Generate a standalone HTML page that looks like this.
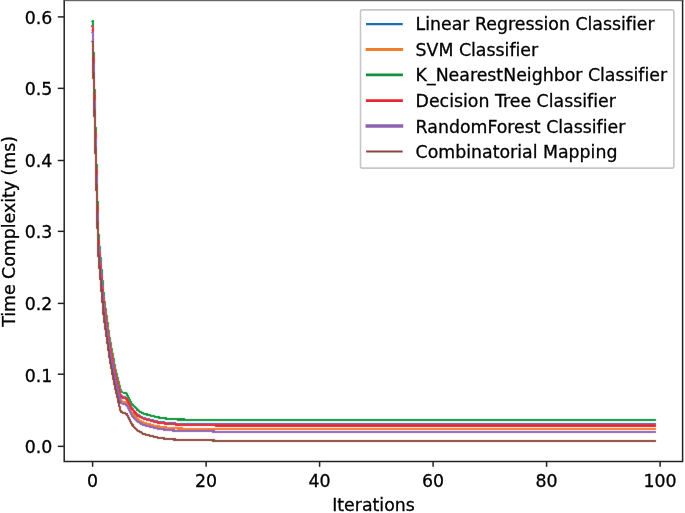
<!DOCTYPE html><html><head><meta charset="utf-8"><style>html,body{margin:0;padding:0;background:#fff;}svg{display:block;}text{font-family:"DejaVu Sans","Liberation Sans",sans-serif;font-variant-ligatures:none;font-feature-settings:"liga" 0,"kern" 1;font-size:17.35px;fill:#000;stroke:#000;stroke-width:0.3px;}</style></head><body>
<svg width="685" height="513" viewBox="0 0 685 513">
<rect width="685" height="513" fill="#fff"/>
<defs><clipPath id="ax"><rect x="64.5" y="0.5" width="618" height="460.8"/></clipPath><filter id="bl" filterUnits="userSpaceOnUse" x="0" y="0" width="685" height="513"><feConvolveMatrix order="3" kernelMatrix="0.01134 0.08382 0.01134 0.08382 0.61935 0.08382 0.01134 0.08382 0.01134" edgeMode="none" preserveAlpha="false"/></filter></defs>
<g clip-path="url(#ax)"><g filter="url(#bl)" shape-rendering="crispEdges" fill="none" stroke-width="2.20" stroke-linejoin="round" stroke-linecap="square">
<polyline stroke="#1c6fb2" points="92.60,25.89 98.27,237.17 103.95,302.34 109.62,342.45 115.30,372.89 120.97,396.17 126.65,397.96 132.32,408.84 138.00,414.79 143.67,418.01 149.35,419.37 155.02,421.09 160.70,422.09 166.38,422.81 172.05,423.38 177.72,423.74 183.40,423.88 189.07,423.95 194.75,423.95 200.43,424.03 206.10,424.03 211.77,423.99 217.45,423.92 223.12,423.92 228.80,423.92 234.47,423.92 240.15,423.92 245.82,423.92 251.50,423.92 257.17,423.92 262.85,423.92 268.52,423.92 274.20,423.92 279.88,423.92 285.55,423.92 291.23,423.92 296.90,423.92 302.57,423.92 308.25,423.92 313.92,423.92 319.60,423.92 325.27,423.92 330.95,423.92 336.62,423.92 342.30,423.92 347.98,423.92 353.65,423.92 359.32,423.92 365.00,423.92 370.67,423.92 376.35,423.92 382.02,423.92 387.70,423.92 393.38,423.92 399.05,423.92 404.73,423.92 410.40,423.92 416.07,423.92 421.75,423.92 427.42,423.92 433.10,423.92 438.77,423.92 444.45,423.92 450.12,423.92 455.80,423.92 461.48,423.92 467.15,423.92 472.82,423.92 478.50,423.92 484.17,423.92 489.85,423.92 495.52,423.92 501.20,423.92 506.88,423.92 512.55,423.92 518.23,423.92 523.90,423.92 529.57,423.92 535.25,423.92 540.92,423.92 546.60,423.92 552.27,423.92 557.95,423.92 563.62,423.92 569.30,423.92 574.98,423.92 580.65,423.92 586.32,423.92 592.00,423.92 597.67,423.92 603.35,423.92 609.02,423.92 614.70,423.92 620.38,423.92 626.05,423.92 631.73,423.92 637.40,423.92 643.08,423.92 648.75,423.92 654.42,423.92"/>
<polyline stroke="#f27d2c" points="92.60,30.62 98.27,241.90 103.95,307.07 109.62,347.18 115.30,377.62 120.97,400.89 126.65,402.68 132.32,413.57 138.00,419.51 143.67,422.74 149.35,424.10 155.02,425.82 160.70,426.82 166.38,427.54 172.05,428.11 177.72,428.47 183.40,428.61 189.07,428.68 194.75,428.68 200.43,428.75 206.10,428.75 211.77,428.93 217.45,429.08 223.12,429.08 228.80,429.08 234.47,429.08 240.15,429.08 245.82,429.08 251.50,429.08 257.17,429.08 262.85,429.08 268.52,429.08 274.20,429.08 279.88,429.08 285.55,429.08 291.23,429.08 296.90,429.08 302.57,429.08 308.25,429.08 313.92,429.08 319.60,429.08 325.27,429.08 330.95,429.08 336.62,429.08 342.30,429.08 347.98,429.08 353.65,429.08 359.32,429.08 365.00,429.08 370.67,429.08 376.35,429.08 382.02,429.08 387.70,429.08 393.38,429.08 399.05,429.08 404.73,429.08 410.40,429.08 416.07,429.08 421.75,429.08 427.42,429.08 433.10,429.08 438.77,429.08 444.45,429.08 450.12,429.08 455.80,429.08 461.48,429.08 467.15,429.08 472.82,429.08 478.50,429.08 484.17,429.08 489.85,429.08 495.52,429.08 501.20,429.08 506.88,429.08 512.55,429.08 518.23,429.08 523.90,429.08 529.57,429.08 535.25,429.08 540.92,429.08 546.60,429.08 552.27,429.08 557.95,429.08 563.62,429.08 569.30,429.08 574.98,429.08 580.65,429.08 586.32,429.08 592.00,429.08 597.67,429.08 603.35,429.08 609.02,429.08 614.70,429.08 620.38,429.08 626.05,429.08 631.73,429.08 637.40,429.08 643.08,429.08 648.75,429.08 654.42,429.08"/>
<polyline stroke="#0f9238" points="92.60,21.59 98.27,232.87 103.95,298.05 109.62,338.15 115.30,368.59 120.97,391.87 126.65,393.66 132.32,404.55 138.00,410.49 143.67,413.71 149.35,415.07 155.02,416.79 160.70,417.80 166.38,418.51 172.05,419.08 177.72,419.44 183.40,419.59 189.07,419.66 194.75,419.66 200.43,419.73 206.10,419.73 211.77,419.76 217.45,419.76 223.12,419.76 228.80,419.76 234.47,419.76 240.15,419.76 245.82,419.76 251.50,419.76 257.17,419.76 262.85,419.76 268.52,419.76 274.20,419.76 279.88,419.76 285.55,419.76 291.23,419.76 296.90,419.76 302.57,419.76 308.25,419.76 313.92,419.76 319.60,419.76 325.27,419.76 330.95,419.76 336.62,419.76 342.30,419.76 347.98,419.76 353.65,419.76 359.32,419.76 365.00,419.76 370.67,419.76 376.35,419.76 382.02,419.76 387.70,419.76 393.38,419.76 399.05,419.76 404.73,419.76 410.40,419.76 416.07,419.76 421.75,419.76 427.42,419.76 433.10,419.76 438.77,419.76 444.45,419.76 450.12,419.76 455.80,419.76 461.48,419.76 467.15,419.76 472.82,419.76 478.50,419.76 484.17,419.76 489.85,419.76 495.52,419.76 501.20,419.76 506.88,419.76 512.55,419.76 518.23,419.76 523.90,419.76 529.57,419.76 535.25,419.76 540.92,419.76 546.60,419.76 552.27,419.76 557.95,419.76 563.62,419.76 569.30,419.76 574.98,419.76 580.65,419.76 586.32,419.76 592.00,419.76 597.67,419.76 603.35,419.76 609.02,419.76 614.70,419.76 620.38,419.76 626.05,419.76 631.73,419.76 637.40,419.76 643.08,419.76 648.75,419.76 654.42,419.76"/>
<polyline stroke="#e8262d" points="92.60,26.75 98.27,238.03 103.95,303.20 109.62,343.31 115.30,373.75 120.97,397.03 126.65,398.82 132.32,409.70 138.00,415.65 143.67,418.87 149.35,420.23 155.02,421.95 160.70,422.95 166.38,423.67 172.05,424.24 177.72,424.60 183.40,424.74 189.07,424.81 194.75,424.81 200.43,424.89 206.10,424.89 211.77,425.24 217.45,425.57 223.12,425.57 228.80,425.57 234.47,425.57 240.15,425.57 245.82,425.57 251.50,425.57 257.17,425.57 262.85,425.57 268.52,425.57 274.20,425.57 279.88,425.57 285.55,425.57 291.23,425.57 296.90,425.57 302.57,425.57 308.25,425.57 313.92,425.57 319.60,425.57 325.27,425.57 330.95,425.57 336.62,425.57 342.30,425.57 347.98,425.57 353.65,425.57 359.32,425.57 365.00,425.57 370.67,425.57 376.35,425.57 382.02,425.57 387.70,425.57 393.38,425.57 399.05,425.57 404.73,425.57 410.40,425.57 416.07,425.57 421.75,425.57 427.42,425.57 433.10,425.57 438.77,425.57 444.45,425.57 450.12,425.57 455.80,425.57 461.48,425.57 467.15,425.57 472.82,425.57 478.50,425.57 484.17,425.57 489.85,425.57 495.52,425.57 501.20,425.57 506.88,425.57 512.55,425.57 518.23,425.57 523.90,425.57 529.57,425.57 535.25,425.57 540.92,425.57 546.60,425.57 552.27,425.57 557.95,425.57 563.62,425.57 569.30,425.57 574.98,425.57 580.65,425.57 586.32,425.57 592.00,425.57 597.67,425.57 603.35,425.57 609.02,425.57 614.70,425.57 620.38,425.57 626.05,425.57 631.73,425.57 637.40,425.57 643.08,425.57 648.75,425.57 654.42,425.57"/>
<polyline stroke="#8b63b2" points="92.60,32.91 98.27,244.19 103.95,309.36 109.62,349.47 115.30,379.91 120.97,403.18 126.65,404.98 132.32,415.86 138.00,421.81 143.67,425.03 149.35,426.39 155.02,428.11 160.70,429.11 166.38,429.83 172.05,430.40 177.72,430.76 183.40,430.90 189.07,430.97 194.75,430.97 200.43,431.04 206.10,431.04 211.77,431.40 217.45,431.73 223.12,431.73 228.80,431.73 234.47,431.73 240.15,431.73 245.82,431.73 251.50,431.73 257.17,431.73 262.85,431.73 268.52,431.73 274.20,431.73 279.88,431.73 285.55,431.73 291.23,431.73 296.90,431.73 302.57,431.73 308.25,431.73 313.92,431.73 319.60,431.73 325.27,431.73 330.95,431.73 336.62,431.73 342.30,431.73 347.98,431.73 353.65,431.73 359.32,431.73 365.00,431.73 370.67,431.73 376.35,431.73 382.02,431.73 387.70,431.73 393.38,431.73 399.05,431.73 404.73,431.73 410.40,431.73 416.07,431.73 421.75,431.73 427.42,431.73 433.10,431.73 438.77,431.73 444.45,431.73 450.12,431.73 455.80,431.73 461.48,431.73 467.15,431.73 472.82,431.73 478.50,431.73 484.17,431.73 489.85,431.73 495.52,431.73 501.20,431.73 506.88,431.73 512.55,431.73 518.23,431.73 523.90,431.73 529.57,431.73 535.25,431.73 540.92,431.73 546.60,431.73 552.27,431.73 557.95,431.73 563.62,431.73 569.30,431.73 574.98,431.73 580.65,431.73 586.32,431.73 592.00,431.73 597.67,431.73 603.35,431.73 609.02,431.73 614.70,431.73 620.38,431.73 626.05,431.73 631.73,431.73 637.40,431.73 643.08,431.73 648.75,431.73 654.42,431.73"/>
<polyline stroke="#8b463b" points="92.60,41.86 98.27,253.14 103.95,318.32 109.62,358.42 115.30,388.86 120.97,412.14 126.65,413.93 132.32,424.81 138.00,430.76 143.67,433.98 149.35,435.34 155.02,437.06 160.70,438.06 166.38,438.78 172.05,439.35 177.72,439.71 183.40,439.85 189.07,439.93 194.75,439.93 200.43,440.00 206.10,440.00 211.77,440.39 217.45,440.75 223.12,440.75 228.80,440.75 234.47,440.75 240.15,440.75 245.82,440.75 251.50,440.75 257.17,440.75 262.85,440.75 268.52,440.75 274.20,440.75 279.88,440.75 285.55,440.75 291.23,440.75 296.90,440.75 302.57,440.75 308.25,440.75 313.92,440.75 319.60,440.75 325.27,440.75 330.95,440.75 336.62,440.75 342.30,440.75 347.98,440.75 353.65,440.75 359.32,440.75 365.00,440.75 370.67,440.75 376.35,440.75 382.02,440.75 387.70,440.75 393.38,440.75 399.05,440.75 404.73,440.75 410.40,440.75 416.07,440.75 421.75,440.75 427.42,440.75 433.10,440.75 438.77,440.75 444.45,440.75 450.12,440.75 455.80,440.75 461.48,440.75 467.15,440.75 472.82,440.75 478.50,440.75 484.17,440.75 489.85,440.75 495.52,440.75 501.20,440.75 506.88,440.75 512.55,440.75 518.23,440.75 523.90,440.75 529.57,440.75 535.25,440.75 540.92,440.75 546.60,440.75 552.27,440.75 557.95,440.75 563.62,440.75 569.30,440.75 574.98,440.75 580.65,440.75 586.32,440.75 592.00,440.75 597.67,440.75 603.35,440.75 609.02,440.75 614.70,440.75 620.38,440.75 626.05,440.75 631.73,440.75 637.40,440.75 643.08,440.75 648.75,440.75 654.42,440.75"/>
</g></g>
<rect x="63.4" y="0" width="620" height="1.2" fill="#666"/>
<path d="M64.2,0.6 L64.2,461.4 L682.6,461.4 L682.6,0.6" stroke="#222" stroke-width="1.5" fill="none" stroke-linejoin="miter"/>
<g stroke="#222" stroke-width="1.5">
<line x1="57.8" y1="446.35" x2="64.2" y2="446.35"/>
<line x1="57.8" y1="374.20" x2="64.2" y2="374.20"/>
<line x1="57.8" y1="303.40" x2="64.2" y2="303.40"/>
<line x1="57.8" y1="231.35" x2="64.2" y2="231.35"/>
<line x1="57.8" y1="160.50" x2="64.2" y2="160.50"/>
<line x1="57.8" y1="88.35" x2="64.2" y2="88.35"/>
<line x1="57.8" y1="16.90" x2="64.2" y2="16.90"/>
<line x1="92.60" y1="461.4" x2="92.60" y2="466.8"/>
<line x1="206.10" y1="461.4" x2="206.10" y2="466.8"/>
<line x1="319.60" y1="461.4" x2="319.60" y2="466.8"/>
<line x1="433.10" y1="461.4" x2="433.10" y2="466.8"/>
<line x1="546.60" y1="461.4" x2="546.60" y2="466.8"/>
<line x1="660.10" y1="461.4" x2="660.10" y2="466.8"/>
</g>
<text x="52.3" y="453.20" text-anchor="end">0.0</text>
<text x="52.3" y="381.58" text-anchor="end">0.1</text>
<text x="52.3" y="309.96" text-anchor="end">0.2</text>
<text x="52.3" y="238.34" text-anchor="end">0.3</text>
<text x="52.3" y="166.72" text-anchor="end">0.4</text>
<text x="52.3" y="95.10" text-anchor="end">0.5</text>
<text x="52.3" y="24.38" text-anchor="end">0.6</text>
<text x="92.60" y="486.6" text-anchor="middle">0</text>
<text x="206.10" y="486.6" text-anchor="middle">20</text>
<text x="319.60" y="486.6" text-anchor="middle">40</text>
<text x="433.10" y="486.6" text-anchor="middle">60</text>
<text x="546.60" y="486.6" text-anchor="middle">80</text>
<text x="660.10" y="486.6" text-anchor="middle">100</text>
<text x="373.5" y="510.6" text-anchor="middle">Iterations</text>
<text transform="translate(14.5,231.4) rotate(-90)" text-anchor="middle">Time Complexity (ms)</text>
<rect x="360.5" y="9.9" width="313.35" height="158.2" rx="1.8" ry="1.8" fill="#fff" fill-opacity="0.8" stroke="#c6c6c6" stroke-width="1.6"/>
<line x1="367.2" y1="24.10" x2="401.6" y2="24.10" stroke="#1c6fb2" stroke-width="2.30" stroke-linecap="square"/>
<text x="415.6" y="30.20">Linear Regression Classifier</text>
<line x1="367.2" y1="49.50" x2="401.6" y2="49.50" stroke="#f27d2c" stroke-width="3.10" stroke-linecap="square"/>
<text x="415.6" y="55.70">SVM Classifier</text>
<line x1="367.2" y1="74.90" x2="401.6" y2="74.90" stroke="#0f9238" stroke-width="2.60" stroke-linecap="square"/>
<text x="415.6" y="81.10">K_NearestNeighbor Classifier</text>
<line x1="367.2" y1="100.60" x2="401.6" y2="100.60" stroke="#e8262d" stroke-width="2.60" stroke-linecap="square"/>
<text x="415.6" y="106.60">Decision Tree Classifier</text>
<line x1="367.2" y1="126.00" x2="401.6" y2="126.00" stroke="#8b63b2" stroke-width="3.30" stroke-linecap="square"/>
<text x="415.6" y="133.00">RandomForest Classifier</text>
<line x1="367.2" y1="151.50" x2="401.6" y2="151.50" stroke="#8b463b" stroke-width="2.10" stroke-linecap="square"/>
<text x="415.6" y="157.70">Combinatorial Mapping</text>
</svg></body></html>
